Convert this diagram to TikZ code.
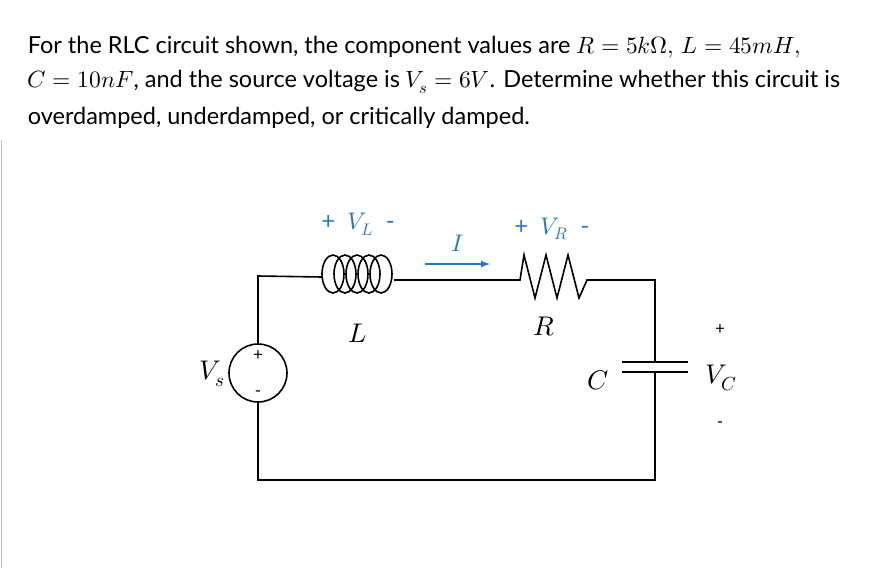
\documentclass[tikz,border=0pt]{standalone}
\usepackage{fontspec}
\setmainfont{Lato}
\usepackage{amsmath}
\usepackage{unicode-math}
\setmathfont{Latin Modern Math}
\definecolor{bl}{RGB}{40,120,190}
\begin{document}
\begin{tikzpicture}[x=1pt,y=-1pt,line width=1.6pt,
  txt/.style={anchor=west,inner sep=0pt,font=\fontsize{23.5}{26}\selectfont},
  lab/.style={inner sep=0pt,font=\fontsize{27}{30}\selectfont},
  blab/.style={inner sep=0pt,text=bl,font=\fontsize{24}{26}\selectfont},
  pm/.style={inner sep=0pt,font=\fontsize{17}{17}\selectfont}]
\useasboundingbox (0,0) rectangle (891,568);
\draw[line width=1pt,gray!50] (1,140) -- (1,568);
\node[txt] (t1) at (27,47) {For the RLC circuit shown, the component values are $R=5k\Omega,\,L=45mH,$};
\node[txt] (t2) at (27,82) {$C=10nF$, and the source voltage is $V_s=6V$. Determine whether this circuit is};
\node[txt] (t3) at (27,118) {overdamped, underdamped, or critically damped.};
\coordinate (tl) at (258,276);
\coordinate (bl) at (258,480);
\coordinate (br) at (655,480);
\coordinate (tr) at (655,280);
\node[draw,circle,minimum size=58pt,inner sep=0pt] (src) at (258,373) {};
\node[pm] (sp) at (258,356) {+};
\node[pm] (sm) at (258,394) {-};
\coordinate (li) at (322,277);
\coordinate (lo) at (394,280);
\coordinate (ri) at (520,280);
\coordinate (ro) at (588,280);
\coordinate (ct) at (655,362);
\coordinate (cb) at (655,372);
\draw (src.north) -- (tl) -- (li);
\foreach \cx in {333,345,357,369,381}{\draw (\cx,274) ellipse [x radius=11, y radius=19];}
\draw (lo) -- (ri) -- (524,255) -- (535,298) -- (546,255) -- (557,298) -- (568,255) -- (579,298) -- (587,280) -- (ro) -- (tr) -- (ct);
\draw (cb) -- (br) -- (bl) -- (src.south);
\draw (622,362) -- (688,362);
\draw (622,372) -- (688,372);
\node[lab] (vs) at (212,374) {$V_s$};
\node[lab] (L) at (358,333) {$L$};
\node[lab] (R) at (544,327) {$R$};
\node[lab] (C) at (598,380) {$C$};
\node[lab] (vc) at (721,378) {$V_C$};
\node[pm] (cp) at (720,330) {+};
\node[pm] (cm) at (720,425) {-};
\node[blab] (vl) at (358,224) {+\ \ $V_L$\ \ -};
\node[blab] (vr) at (552,229) {+\ \ $V_R$\ \ -};
\node[blab] (I) at (458,243) {$I$};
\coordinate (a1) at (425,264);
\coordinate (a2) at (490,264);
\draw[bl,-latex,line width=2pt] (a1) -- (a2);
\end{tikzpicture}
\end{document}
